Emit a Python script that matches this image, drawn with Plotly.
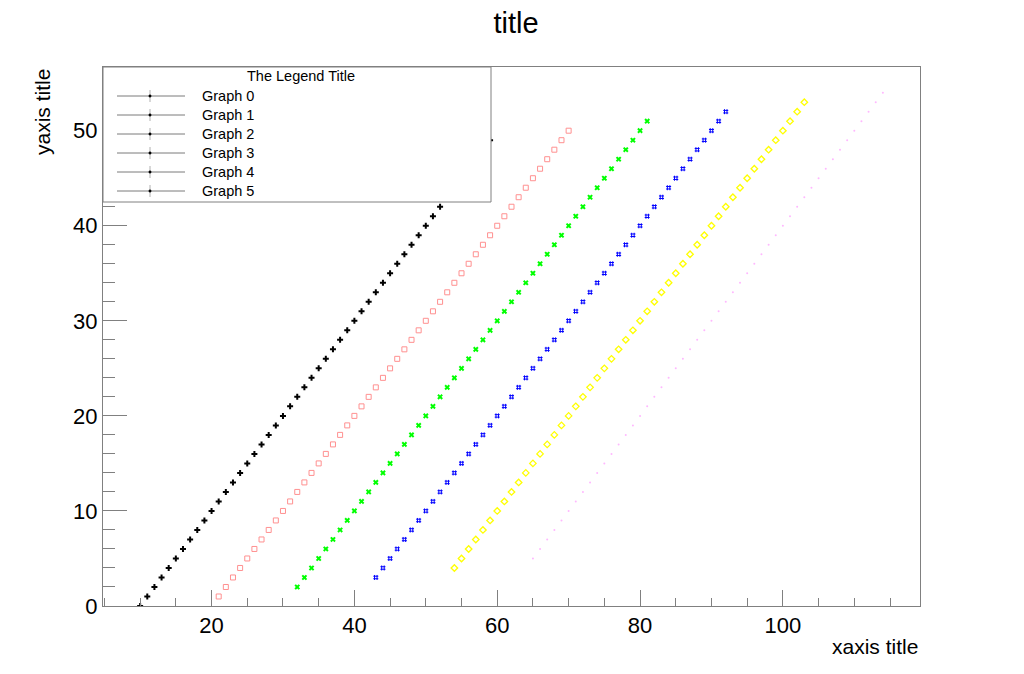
import plotly.graph_objects as go

# ---- data ----
names = ["Graph 0", "Graph 1", "Graph 2", "Graph 3", "Graph 4", "Graph 5"]

x0 = [10, 11, 12, 13, 14, 15, 16, 17, 18, 19, 20, 21, 22, 23, 24, 25, 26, 27, 28, 29,
      30, 31, 32, 33, 34, 35, 36, 37, 38, 39, 40, 41, 42, 43, 44, 45, 46, 47, 48, 49,
      50, 51, 52, 53, 54, 55, 56, 57, 58, 59]
y0 = [0, 1, 2, 3, 4, 5, 6, 7, 8, 9, 10, 11, 12, 13, 14, 15, 16, 17, 18, 19,
      20, 21, 22, 23, 24, 25, 26, 27, 28, 29, 30, 31, 32, 33, 34, 35, 36, 37, 38, 39,
      40, 41, 42, 43, 44, 45, 46, 47, 48, 49]

x1 = [21, 22, 23, 24, 25, 26, 27, 28, 29, 30, 31, 32, 33, 34, 35, 36, 37, 38, 39, 40,
      41, 42, 43, 44, 45, 46, 47, 48, 49, 50, 51, 52, 53, 54, 55, 56, 57, 58, 59, 60,
      61, 62, 63, 64, 65, 66, 67, 68, 69, 70]
y1 = [1, 2, 3, 4, 5, 6, 7, 8, 9, 10, 11, 12, 13, 14, 15, 16, 17, 18, 19, 20,
      21, 22, 23, 24, 25, 26, 27, 28, 29, 30, 31, 32, 33, 34, 35, 36, 37, 38, 39, 40,
      41, 42, 43, 44, 45, 46, 47, 48, 49, 50]

x2 = [32, 33, 34, 35, 36, 37, 38, 39, 40, 41, 42, 43, 44, 45, 46, 47, 48, 49, 50, 51,
      52, 53, 54, 55, 56, 57, 58, 59, 60, 61, 62, 63, 64, 65, 66, 67, 68, 69, 70, 71,
      72, 73, 74, 75, 76, 77, 78, 79, 80, 81]
y2 = [2, 3, 4, 5, 6, 7, 8, 9, 10, 11, 12, 13, 14, 15, 16, 17, 18, 19, 20, 21,
      22, 23, 24, 25, 26, 27, 28, 29, 30, 31, 32, 33, 34, 35, 36, 37, 38, 39, 40, 41,
      42, 43, 44, 45, 46, 47, 48, 49, 50, 51]

x3 = [43, 44, 45, 46, 47, 48, 49, 50, 51, 52, 53, 54, 55, 56, 57, 58, 59, 60, 61, 62,
      63, 64, 65, 66, 67, 68, 69, 70, 71, 72, 73, 74, 75, 76, 77, 78, 79, 80, 81, 82,
      83, 84, 85, 86, 87, 88, 89, 90, 91, 92]
y3 = [3, 4, 5, 6, 7, 8, 9, 10, 11, 12, 13, 14, 15, 16, 17, 18, 19, 20, 21, 22,
      23, 24, 25, 26, 27, 28, 29, 30, 31, 32, 33, 34, 35, 36, 37, 38, 39, 40, 41, 42,
      43, 44, 45, 46, 47, 48, 49, 50, 51, 52]

x4 = [54, 55, 56, 57, 58, 59, 60, 61, 62, 63, 64, 65, 66, 67, 68, 69, 70, 71, 72, 73,
      74, 75, 76, 77, 78, 79, 80, 81, 82, 83, 84, 85, 86, 87, 88, 89, 90, 91, 92, 93,
      94, 95, 96, 97, 98, 99, 100, 101, 102, 103]
y4 = [4, 5, 6, 7, 8, 9, 10, 11, 12, 13, 14, 15, 16, 17, 18, 19, 20, 21, 22, 23,
      24, 25, 26, 27, 28, 29, 30, 31, 32, 33, 34, 35, 36, 37, 38, 39, 40, 41, 42, 43,
      44, 45, 46, 47, 48, 49, 50, 51, 52, 53]

x5 = [65, 66, 67, 68, 69, 70, 71, 72, 73, 74, 75, 76, 77, 78, 79, 80, 81, 82, 83, 84,
      85, 86, 87, 88, 89, 90, 91, 92, 93, 94, 95, 96, 97, 98, 99, 100, 101, 102, 103, 104,
      105, 106, 107, 108, 109, 110, 111, 112, 113, 114]
y5 = [5, 6, 7, 8, 9, 10, 11, 12, 13, 14, 15, 16, 17, 18, 19, 20, 21, 22, 23, 24,
      25, 26, 27, 28, 29, 30, 31, 32, 33, 34, 35, 36, 37, 38, 39, 40, 41, 42, 43, 44,
      45, 46, 47, 48, 49, 50, 51, 52, 53, 54]

xs = [x0, x1, x2, x3, x4, x5]
ys = [y0, y1, y2, y3, y4, y5]

# ---- styles ----
colors = ["#000000", "#ff9090", "#00ff00", "#0000ff", "#ffff00", "#ffb8ff"]
symbols = ["cross", "square-open", "x", "hash-open", "diamond-open", "circle"]
sizes = [5, 5, 5, 5, 5, 2]
line_widths = [0, 1, 0, 1, 1.3, 0]

FONT = "Liberation Sans, Arial, Helvetica, sans-serif"
OFF = 8                      # browser body margin
W, H = 1024 - OFF, 674 - OFF
L, R, T, B = 103, 920, 67, 606  # frame in page pixels (reference)
pw, ph = R - L, B - T

fig = go.Figure()
for i in range(6):
    fig.add_trace(go.Scatter(
        x=xs[i], y=ys[i], mode="markers", name=names[i], showlegend=False,
        marker=dict(symbol=symbols[i], size=sizes[i], color=colors[i],
                    line=dict(width=line_widths[i], color=colors[i])),
    ))

def px(xp):
    return (xp - L) / pw

def py(yp):
    return (B - yp) / ph

shapes = []
annotations = []

# legend box (ROOT style)
shapes.append(dict(type="rect", xref="paper", yref="paper", layer="above",
                   x0=px(103), x1=px(491), y0=py(202), y1=py(67),
                   line=dict(color="#808080", width=1), fillcolor="white"))
annotations.append(dict(text="The Legend Title", xref="paper", yref="paper",
                        x=px(301), y=py(76), xanchor="center", yanchor="middle",
                        showarrow=False, font=dict(family=FONT, size=14.5, color="black")))
entry_y = [96, 115, 134, 153, 172, 191]
for i, ey in enumerate(entry_y):
    shapes.append(dict(type="line", xref="paper", yref="paper", layer="above",
                       x0=px(117), x1=px(185), y0=py(ey), y1=py(ey),
                       line=dict(color="#7a7a7a", width=1)))
    shapes.append(dict(type="line", xref="paper", yref="paper", layer="above",
                       x0=px(150), x1=px(150), y0=py(ey - 6), y1=py(ey + 6),
                       line=dict(color="#b0b0b0", width=1)))
    shapes.append(dict(type="circle", xref="paper", yref="paper", layer="above",
                       x0=px(148.8), x1=px(151.2), y0=py(ey + 1.2), y1=py(ey - 1.2),
                       line=dict(color="black", width=0.5), fillcolor="black"))
    annotations.append(dict(text=names[i], xref="paper", yref="paper",
                            x=px(200), y=py(ey), xanchor="left", yanchor="middle",
                            showarrow=False, font=dict(family=FONT, size=14.5, color="black")))

# axis titles
annotations.append(dict(text="xaxis title", xref="paper", yref="paper",
                        x=1, y=py(646), xanchor="right", yanchor="middle",
                        showarrow=False, font=dict(family=FONT, size=21, color="black")))
annotations.append(dict(text="yaxis title", xref="paper", yref="paper",
                        x=px(42), y=1, xanchor="center", yanchor="top", textangle=-90,
                        showarrow=False, font=dict(family=FONT, size=21, color="black")))

fig.update_layout(
    width=W, height=H,
    margin=dict(l=L - OFF, r=W - (R - OFF), t=T - OFF, b=H - (B - OFF), pad=0),
    paper_bgcolor="white", plot_bgcolor="white",
    title=dict(text="title", x=0.5, xanchor="center", y=1 - (23 - OFF) / H, yanchor="middle",
               font=dict(family=FONT, size=29, color="black")),
    shapes=shapes, annotations=annotations,
    showlegend=False,
    font=dict(family=FONT, color="black"),
)

fig.update_xaxes(
    range=[4.8, 119.2], showgrid=False, zeroline=False,
    showline=True, mirror=True, linecolor="#808080", linewidth=1,
    ticks="inside", tick0=0, dtick=20, ticklen=16, tickcolor="#808080", tickwidth=1,
    minor=dict(ticks="inside", dtick=5, tick0=0, ticklen=8, tickcolor="#808080", tickwidth=1, showgrid=False),
    tickfont=dict(family=FONT, size=22, color="black"),
)
fig.update_yaxes(
    range=[0, 56.7], showgrid=False, zeroline=False,
    showline=True, mirror=True, linecolor="#808080", linewidth=1,
    ticks="inside", tick0=0, dtick=10, ticklen=24, tickcolor="#808080", tickwidth=1,
    minor=dict(ticks="inside", dtick=2, tick0=0, ticklen=12, tickcolor="#808080", tickwidth=1, showgrid=False),
    tickfont=dict(family=FONT, size=22, color="black"),
)

fig.write_html("out.html")
